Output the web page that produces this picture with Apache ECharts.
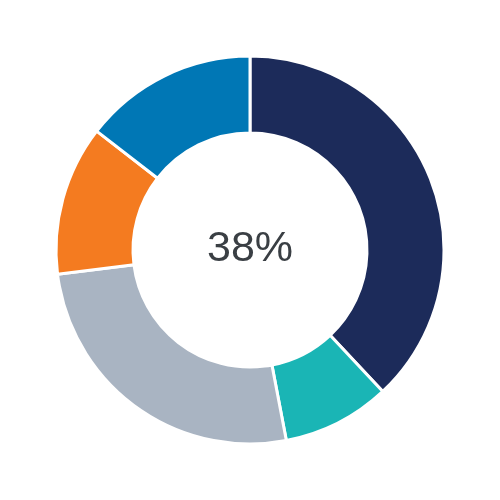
<!DOCTYPE html>
<html>
<head>
<meta charset="utf-8">
<script src="https://cdn.jsdelivr.net/npm/echarts@6/dist/echarts.min.js"></script>
<style>html,body{margin:0;padding:0;background:#fff;}#c{width:500px;height:500px;}</style>
</head>
<body>
<div id="c"></div>
<script>
const categories = ['A', 'B', 'C', 'D', 'E'];
const values = [38, 9, 26, 12.5, 14.5];
const colors = ['#1c2b5a', '#1ab5b5', '#a9b4c2', '#f47b20', '#0077b5'];
const centerLabel = '38%';

const chart = echarts.init(document.getElementById('c'), null, {renderer: 'canvas'});
chart.setOption({
  animation: false,
  backgroundColor: '#ffffff',
  graphic: [{
    type: 'text',
    x: 250,
    y: 249,
    style: {
      text: centerLabel,
      align: 'center',
      verticalAlign: 'middle',
      font: '43px "Liberation Sans", Arial, sans-serif',
      fill: '#3a3f44'
    }
  }],
  series: [{
    type: 'pie',
    center: [250, 250],
    radius: [117, 194],
    startAngle: 90,
    clockwise: true,
    label: {show: false},
    labelLine: {show: false},
    itemStyle: {borderColor: '#ffffff', borderWidth: 3},
    data: categories.map((c, i) => ({name: c, value: values[i], itemStyle: {color: colors[i]}}))
  }]
});
</script>
</body>
</html>
